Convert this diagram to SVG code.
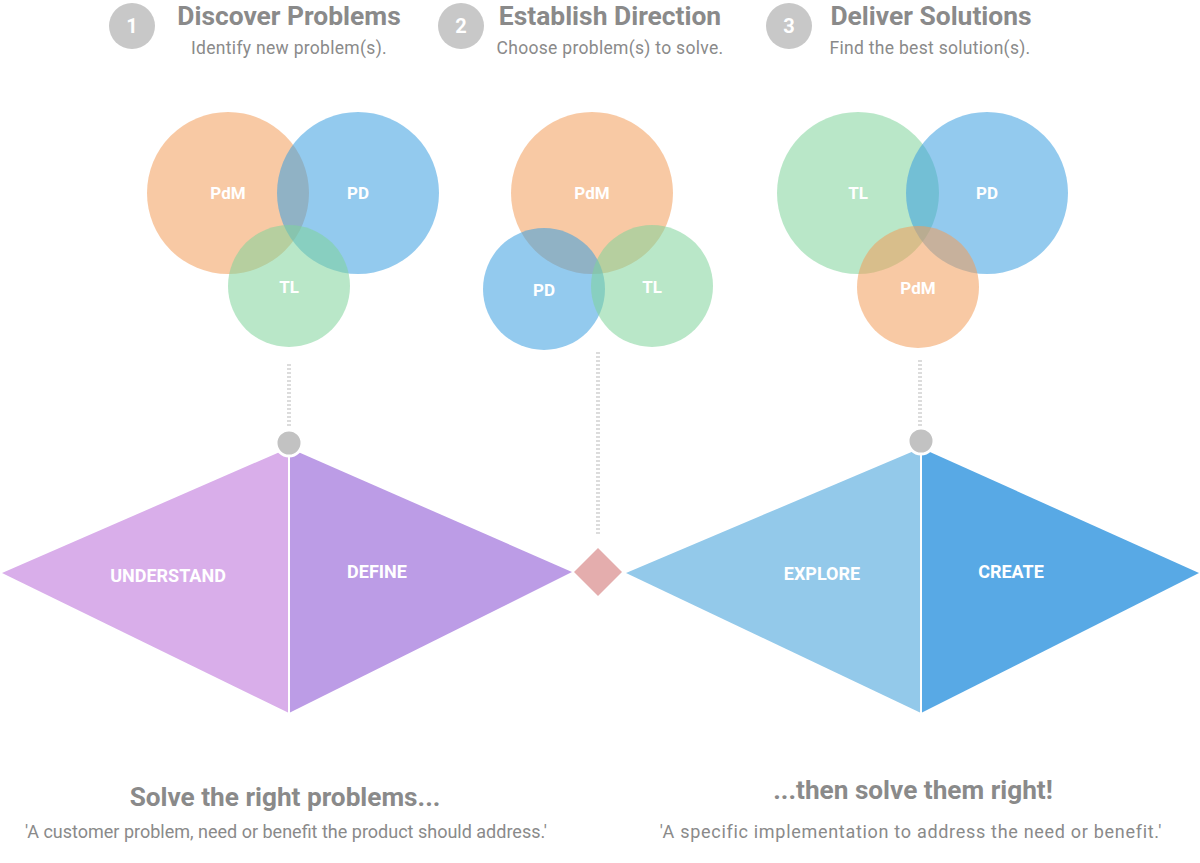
<svg xmlns="http://www.w3.org/2000/svg" width="1200" height="863" viewBox="0 0 1200 863">
<style>
text{font-family:Roboto,"Liberation Sans",sans-serif}
.h{font-size:26.4px;font-weight:bold;fill:#8a8a8a}
.s{font-size:17.5px;fill:#8a8a8a;letter-spacing:0.3px}
.n{font-size:20px;font-weight:bold;fill:#fff}
.num{fill:#c8c8c8}
.o{fill:#f29c5a;fill-opacity:0.55}
.b{fill:#3a9ee0;fill-opacity:0.55}
.g{fill:#7fd49a;fill-opacity:0.55}
.cl{font-size:17px;font-weight:bold;fill:#fff}
.dl{font-size:18px;font-weight:bold;fill:#fff}
.dot{stroke:#dcdcdc;stroke-width:4;stroke-dasharray:2 2}
.big{font-size:26.2px;font-weight:bold;fill:#8a8a8a}
.q{font-size:18px;fill:#8a8a8a}
</style>
<g id="header1"><circle class="num" cx="132" cy="26" r="23"/><text class="n" x="132" y="33" text-anchor="middle">1</text><text class="h" x="289" y="25" text-anchor="middle">Discover Problems</text><text class="s" x="289" y="54" text-anchor="middle">Identify new problem(s).</text></g>
<g id="header2"><circle class="num" cx="461" cy="26" r="23"/><text class="n" x="461" y="33" text-anchor="middle">2</text><text class="h" x="610" y="25" text-anchor="middle">Establish Direction</text><text class="s" x="610" y="54" text-anchor="middle">Choose problem(s) to solve.</text></g>
<g id="header3"><circle class="num" cx="789" cy="26" r="23"/><text class="n" x="789" y="33" text-anchor="middle">3</text><text class="h" x="931" y="25" text-anchor="middle">Deliver Solutions</text><text class="s" x="930" y="54" text-anchor="middle">Find the best solution(s).</text></g>
<g id="venn1"><circle class="o" cx="228" cy="193" r="81"/><circle class="b" cx="358" cy="193" r="81"/><circle class="g" cx="289" cy="286" r="61"/>
<text class="cl" x="228" y="199" text-anchor="middle">PdM</text><text class="cl" x="358" y="199" text-anchor="middle">PD</text><text class="cl" x="289" y="293" text-anchor="middle">TL</text></g>
<g id="venn2"><circle class="o" cx="592" cy="193" r="81"/><circle class="b" cx="544" cy="289" r="61"/><circle class="g" cx="652" cy="286" r="61"/>
<text class="cl" x="592" y="199" text-anchor="middle">PdM</text><text class="cl" x="544" y="296" text-anchor="middle">PD</text><text class="cl" x="652" y="293" text-anchor="middle">TL</text></g>
<g id="venn3"><circle class="g" cx="858" cy="193" r="81"/><circle class="b" cx="987" cy="193" r="81"/><circle class="o" cx="918" cy="287" r="61"/>
<text class="cl" x="858" y="199" text-anchor="middle">TL</text><text class="cl" x="987" y="199" text-anchor="middle">PD</text><text class="cl" x="918" y="294" text-anchor="middle">PdM</text></g>
<g id="connectors"><line class="dot" x1="289" y1="364" x2="289" y2="428"/><line class="dot" x1="598" y1="352" x2="598" y2="536"/><line class="dot" x1="920" y1="360" x2="920" y2="426"/></g>
<g id="diamond1"><polygon points="2,573 289,448 289,713" fill="#d9aeea"/><polygon points="289,448 572,572 289,713" fill="#bc9ce6"/><line x1="289" y1="448" x2="289" y2="713" stroke="#fff" stroke-width="2"/>
<circle cx="289" cy="443" r="13" fill="#c2c2c2" stroke="#fff" stroke-width="3"/>
<text class="dl" x="168" y="582" text-anchor="middle">UNDERSTAND</text><text class="dl" x="377" y="578" text-anchor="middle">DEFINE</text></g>
<g id="center"><polygon points="598,548 622,572 598,596 574,572" fill="#e4adad"/></g>
<g id="diamond2"><polygon points="626,573 921,448 921,713" fill="#93c9ea"/><polygon points="921,448 1199,573 921,713" fill="#58a9e5"/><line x1="921" y1="448" x2="921" y2="713" stroke="#fff" stroke-width="2"/>
<circle cx="921" cy="441" r="13" fill="#c2c2c2" stroke="#fff" stroke-width="3"/>
<text class="dl" x="822" y="580" text-anchor="middle">EXPLORE</text><text class="dl" x="1011" y="578" text-anchor="middle">CREATE</text></g>
<g id="footer"><text class="big" x="285" y="806" text-anchor="middle">Solve the right problems...</text><text class="q" x="286" y="838" text-anchor="middle">'A customer problem, need or benefit the product should address.'</text>
<text class="big" x="913" y="799" text-anchor="middle">...then solve them right!</text><text class="q" x="911" y="838" text-anchor="middle" style="letter-spacing:0.7px">'A specific implementation to address the need or benefit.'</text></g>
</svg>
